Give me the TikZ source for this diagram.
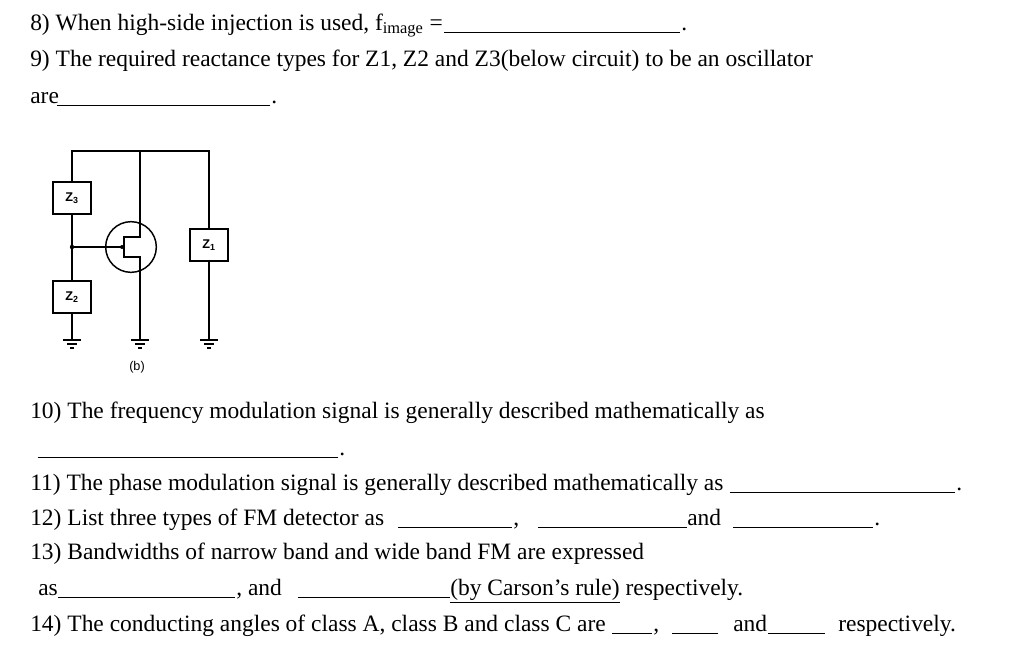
\documentclass[tikz,border=0pt]{standalone}
\usepackage{fontspec}
\setmainfont{Liberation Serif}
\setsansfont{Liberation Sans}
\begin{document}
\begin{tikzpicture}[x=0.75pt,y=-0.75pt,
  txt/.style={anchor=base west,inner sep=0pt,font=\fontsize{17.6}{19}\selectfont},
  blank/.style={line width=0.7pt},
  zbox/.style={draw,line width=1.1pt,minimum width=28.5pt,minimum height=24pt,inner sep=0pt,font=\sffamily\bfseries\fontsize{9.5}{10}\selectfont},
  wire/.style={line width=1.1pt}]
\useasboundingbox (0,0) rectangle (1024,661);
% text
\node[txt] (l8) at (30,30) {8) When high-side injection is used, f\textsubscript{image} =};
\draw[blank] (l8.base east) ++(1,2) coordinate (b8a) -- (680,32) coordinate (b8b);
\node[txt] at (681,30) {.};
\node[txt] (l9) at (30,66) {9) The required reactance types for Z1, Z2 and Z3(below circuit) to be an oscillator};
\node[txt] (l9b) at (30,103) {are};
\draw[blank] (57,105) -- (270,105);
\node[txt] at (271,103) {.};
\node[txt] (l10) at (30,418) {10) The frequency modulation signal is generally described mathematically as};
\draw[blank] (38,457) -- (338,457);
\node[txt] at (339,455) {.};
\node[txt] (l11) at (30,490) {11) The phase modulation signal is generally described mathematically as};
\draw[blank] (730,492) -- (955,492);
\node[txt] at (956,490) {.};
\node[txt] (l12) at (30,525) {12) List three types of FM detector as};
\draw[blank] (398,527) -- (512,527);
\node[txt] at (513,525) {,};
\draw[blank] (538,527) -- (687,527);
\node[txt] at (687,525) {and};
\draw[blank] (733,527) -- (873,527);
\node[txt] at (874,525) {.};
\node[txt] (l13) at (30,559) {13) Bandwidths of narrow band and wide band FM are expressed};
\node[txt] at (38,595) {as};
\draw[blank] (58,597) -- (235,597);
\node[txt] at (236,595) {, and};
\draw[blank] (298,597) -- (450,597);
\node[txt] at (450,595) {\underline{(by Carson's rule)} respectively.};
\node[txt] (l14) at (30,631) {14) The conducting angles of class A, class B and class C are};
\draw[blank] (612,633) -- (652,633);
\node[txt] at (653,631) {,};
\draw[blank] (672,633) -- (718,633);
\node[txt] at (733,631) {and};
\draw[blank] (768,633) -- (825,633);
\node[txt] at (838,631) {respectively.};
% circuit
\node[zbox] (z3) at (72,198) {Z\textsubscript{3}};
\node[zbox] (z2) at (72,297) {Z\textsubscript{2}};
\node[zbox] (z1) at (209,245) {Z\textsubscript{1}};
\node[draw,circle,line width=1.1pt,minimum size=38pt,inner sep=0pt] (q) at (131,247) {};
\coordinate (tl) at (72,151); \coordinate (tm) at (140,151); \coordinate (tr) at (209,151);
\coordinate (j) at (72,247);
\coordinate (gl) at (72,340); \coordinate (gm) at (140,340); \coordinate (gr) at (209,340);
\draw[wire] (z3.north) -- (tl) -- (tr) -- (z1.north);
\draw[wire] (z1.south) -- (gr);
\draw[wire] (z3.south) -- (j) -- (z2.north);
\draw[wire] (z2.south) -- (gl);
\fill (j) circle (2.2);
\coordinate (gate) at (122,247);
\draw[wire] (j) -- (gate);
\fill (gate) circle (2);
\draw[wire] (124,236) -- (124,258);
\draw[wire] (tm) -- (140,237) -- (124,237);
\draw[wire] (124,257) -- (140,257) -- (gm);
\foreach \g in {gl,gm,gr}{
  \draw[wire] (\g) ++(-9,0) -- ++(18,0);
  \draw[wire] (\g) ++(-5,4) -- ++(10,0);
  \draw[wire] (\g) ++(-2,8) -- ++(4,0);
}
\node[font=\sffamily\fontsize{9.5}{10}\selectfont] (lb) at (137,367) {(b)};
\end{tikzpicture}
\end{document}
